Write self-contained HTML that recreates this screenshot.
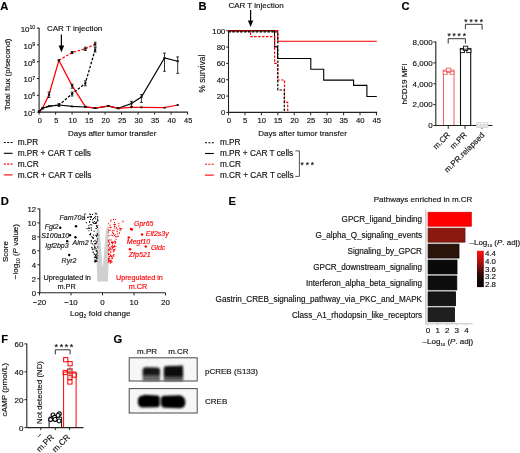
<!DOCTYPE html>
<html><head><meta charset="utf-8"><title>Figure</title>
<style>
html,body{margin:0;padding:0;background:#fff;}
body{width:520px;height:453px;overflow:hidden;}
svg{display:block;}
svg text{font-family:"Liberation Sans", Arial, Helvetica, sans-serif;stroke-width:0.15px;}
</style></head><body>
<svg width="520" height="453" viewBox="0 0 520 453" fill="#111">
<text x="0.2" y="9.8" font-size="11.2" fill="#000" stroke="#000" font-weight="bold">A</text>
<text stroke="#111" x="47" y="31" font-size="8">CAR T injection</text>
<line x1="61.4" y1="34.5" x2="61.4" y2="47" stroke="#000" stroke-width="1.2"/>
<polygon points="58.6,45.5 64.2,45.5 61.4,52.3" fill="#000"/>
<line x1="39.1" y1="27.8" x2="39.1" y2="112.6" stroke="#222" stroke-width="1.1"/>
<line x1="39.1" y1="112.1" x2="187.9" y2="112.1" stroke="#222" stroke-width="1.1"/>
<line x1="36.9" y1="112.1" x2="39.1" y2="112.1" stroke="#222"/>
<text stroke="#111" x="35.2" y="116" font-size="7.9" text-anchor="end">10<tspan font-size="5.1" dy="-2.9">5</tspan></text>
<line x1="36.9" y1="95.3" x2="39.1" y2="95.3" stroke="#222"/>
<text stroke="#111" x="35.2" y="99.2" font-size="7.9" text-anchor="end">10<tspan font-size="5.1" dy="-2.9">6</tspan></text>
<line x1="36.9" y1="78.5" x2="39.1" y2="78.5" stroke="#222"/>
<text stroke="#111" x="35.2" y="82.4" font-size="7.9" text-anchor="end">10<tspan font-size="5.1" dy="-2.9">7</tspan></text>
<line x1="36.9" y1="61.7" x2="39.1" y2="61.7" stroke="#222"/>
<text stroke="#111" x="35.2" y="65.6" font-size="7.9" text-anchor="end">10<tspan font-size="5.1" dy="-2.9">8</tspan></text>
<line x1="36.9" y1="44.9" x2="39.1" y2="44.9" stroke="#222"/>
<text stroke="#111" x="35.2" y="48.8" font-size="7.9" text-anchor="end">10<tspan font-size="5.1" dy="-2.9">9</tspan></text>
<line x1="36.9" y1="28.1" x2="39.1" y2="28.1" stroke="#222"/>
<text stroke="#111" x="35.2" y="32" font-size="7.9" text-anchor="end">10<tspan font-size="5.1" dy="-2.9">10</tspan></text>
<line x1="39.1" y1="112.1" x2="39.1" y2="114.6" stroke="#222"/>
<text stroke="#111" x="39.7" y="122.6" font-size="7.4" text-anchor="middle">0</text>
<line x1="55.6" y1="112.1" x2="55.6" y2="114.6" stroke="#222"/>
<text stroke="#111" x="56.2" y="122.6" font-size="7.4" text-anchor="middle">5</text>
<line x1="72.1" y1="112.1" x2="72.1" y2="114.6" stroke="#222"/>
<text stroke="#111" x="72.7" y="122.6" font-size="7.4" text-anchor="middle">10</text>
<line x1="88.6" y1="112.1" x2="88.6" y2="114.6" stroke="#222"/>
<text stroke="#111" x="89.2" y="122.6" font-size="7.4" text-anchor="middle">15</text>
<line x1="105.1" y1="112.1" x2="105.1" y2="114.6" stroke="#222"/>
<text stroke="#111" x="105.7" y="122.6" font-size="7.4" text-anchor="middle">20</text>
<line x1="121.6" y1="112.1" x2="121.6" y2="114.6" stroke="#222"/>
<text stroke="#111" x="122.2" y="122.6" font-size="7.4" text-anchor="middle">25</text>
<line x1="138.1" y1="112.1" x2="138.1" y2="114.6" stroke="#222"/>
<text stroke="#111" x="138.7" y="122.6" font-size="7.4" text-anchor="middle">30</text>
<line x1="154.6" y1="112.1" x2="154.6" y2="114.6" stroke="#222"/>
<text stroke="#111" x="155.2" y="122.6" font-size="7.4" text-anchor="middle">35</text>
<line x1="171.1" y1="112.1" x2="171.1" y2="114.6" stroke="#222"/>
<text stroke="#111" x="171.7" y="122.6" font-size="7.4" text-anchor="middle">40</text>
<line x1="187.6" y1="112.1" x2="187.6" y2="114.6" stroke="#222"/>
<text stroke="#111" x="188.2" y="122.6" font-size="7.4" text-anchor="middle">45</text>
<text stroke="#111" x="112.2" y="136.1" font-size="8" text-anchor="middle">Days after tumor transfer</text>
<text stroke="#111" x="10.4" y="74.4" font-size="8" text-anchor="middle" transform="rotate(-90 10.4 74.4)">Total flux (p/second)</text>
<polyline points="39.1,111.6 42.4,108.3 49,106.2 58.9,105 72.1,106.4 85.3,107 95.2,108.1 108.4,106.2 118.3,108.3 131.5,103.5 141.4,97.1 164.5,58 177.7,61.2" fill="none" stroke="#000" stroke-width="1.15"/>
<polyline points="39.1,111.6 42.4,108.5 49,94.7 58.9,60.4 72.1,85.6 85.3,106.6 95.2,108.1 108.4,106 118.3,108.3 131.5,107.3 141.4,107.3 164.5,107.7 177.7,105" fill="none" stroke="#ff0000" stroke-width="1.25"/>
<polyline points="39.1,111.6 42.4,108.3 49,106.2 58.9,105 72.1,93.8 85.3,83.4 95.2,49.4" fill="none" stroke="#000" stroke-width="1.25" stroke-dasharray="2.6,1.6"/>
<polyline points="58.9,60.4 72.1,52.5 85.3,48.8 95.2,44.1" fill="none" stroke="#ff0000" stroke-width="1.25" stroke-dasharray="2.6,1.6"/>
<line x1="49" y1="92" x2="49" y2="97.5" stroke="#000" stroke-width="0.8"/>
<line x1="47.6" y1="92" x2="50.4" y2="92" stroke="#000" stroke-width="0.8"/>
<line x1="47.6" y1="97.5" x2="50.4" y2="97.5" stroke="#000" stroke-width="0.8"/>
<line x1="72.1" y1="84.2" x2="72.1" y2="88.2" stroke="#000" stroke-width="0.8"/>
<line x1="70.7" y1="84.2" x2="73.5" y2="84.2" stroke="#000" stroke-width="0.8"/>
<line x1="70.7" y1="88.2" x2="73.5" y2="88.2" stroke="#000" stroke-width="0.8"/>
<line x1="72.1" y1="92" x2="72.1" y2="96" stroke="#000" stroke-width="0.8"/>
<line x1="70.7" y1="92" x2="73.5" y2="92" stroke="#000" stroke-width="0.8"/>
<line x1="70.7" y1="96" x2="73.5" y2="96" stroke="#000" stroke-width="0.8"/>
<line x1="85.3" y1="80.8" x2="85.3" y2="85.8" stroke="#000" stroke-width="0.8"/>
<line x1="83.9" y1="80.8" x2="86.7" y2="80.8" stroke="#000" stroke-width="0.8"/>
<line x1="83.9" y1="85.8" x2="86.7" y2="85.8" stroke="#000" stroke-width="0.8"/>
<line x1="95.2" y1="47.3" x2="95.2" y2="52" stroke="#000" stroke-width="0.8"/>
<line x1="93.8" y1="47.3" x2="96.6" y2="47.3" stroke="#000" stroke-width="0.8"/>
<line x1="93.8" y1="52" x2="96.6" y2="52" stroke="#000" stroke-width="0.8"/>
<line x1="72.1" y1="51.5" x2="72.1" y2="53.6" stroke="#000" stroke-width="0.8"/>
<line x1="70.7" y1="51.5" x2="73.5" y2="51.5" stroke="#000" stroke-width="0.8"/>
<line x1="70.7" y1="53.6" x2="73.5" y2="53.6" stroke="#000" stroke-width="0.8"/>
<line x1="85.3" y1="47.2" x2="85.3" y2="50.5" stroke="#000" stroke-width="0.8"/>
<line x1="83.9" y1="47.2" x2="86.7" y2="47.2" stroke="#000" stroke-width="0.8"/>
<line x1="83.9" y1="50.5" x2="86.7" y2="50.5" stroke="#000" stroke-width="0.8"/>
<line x1="95.2" y1="42.2" x2="95.2" y2="46" stroke="#000" stroke-width="0.8"/>
<line x1="93.8" y1="42.2" x2="96.6" y2="42.2" stroke="#000" stroke-width="0.8"/>
<line x1="93.8" y1="46" x2="96.6" y2="46" stroke="#000" stroke-width="0.8"/>
<line x1="58.9" y1="103.6" x2="58.9" y2="106.4" stroke="#000" stroke-width="0.8"/>
<line x1="57.5" y1="103.6" x2="60.3" y2="103.6" stroke="#000" stroke-width="0.8"/>
<line x1="57.5" y1="106.4" x2="60.3" y2="106.4" stroke="#000" stroke-width="0.8"/>
<line x1="131.5" y1="101.3" x2="131.5" y2="106.4" stroke="#000" stroke-width="0.8"/>
<line x1="130.1" y1="101.3" x2="132.9" y2="101.3" stroke="#000" stroke-width="0.8"/>
<line x1="130.1" y1="106.4" x2="132.9" y2="106.4" stroke="#000" stroke-width="0.8"/>
<line x1="141.4" y1="94.6" x2="141.4" y2="102.4" stroke="#000" stroke-width="0.8"/>
<line x1="140" y1="94.6" x2="142.8" y2="94.6" stroke="#000" stroke-width="0.8"/>
<line x1="140" y1="102.4" x2="142.8" y2="102.4" stroke="#000" stroke-width="0.8"/>
<line x1="164.5" y1="53.1" x2="164.5" y2="71.3" stroke="#000" stroke-width="0.8"/>
<line x1="163.1" y1="53.1" x2="165.9" y2="53.1" stroke="#000" stroke-width="0.8"/>
<line x1="163.1" y1="71.3" x2="165.9" y2="71.3" stroke="#000" stroke-width="0.8"/>
<line x1="177.7" y1="56.9" x2="177.7" y2="73.4" stroke="#000" stroke-width="0.8"/>
<line x1="176.3" y1="56.9" x2="179.1" y2="56.9" stroke="#000" stroke-width="0.8"/>
<line x1="176.3" y1="73.4" x2="179.1" y2="73.4" stroke="#000" stroke-width="0.8"/>
<rect x="38" y="110.7" width="2.2" height="1.8" fill="#111"/>
<rect x="41.3" y="107.4" width="2.2" height="1.8" fill="#111"/>
<rect x="47.9" y="105.3" width="2.2" height="1.8" fill="#111"/>
<rect x="57.8" y="104.1" width="2.2" height="1.8" fill="#111"/>
<rect x="71" y="105.5" width="2.2" height="1.8" fill="#111"/>
<rect x="84.2" y="106.1" width="2.2" height="1.8" fill="#111"/>
<rect x="94.1" y="107.2" width="2.2" height="1.8" fill="#111"/>
<rect x="107.3" y="105.3" width="2.2" height="1.8" fill="#111"/>
<rect x="117.2" y="107.4" width="2.2" height="1.8" fill="#111"/>
<rect x="130.4" y="102.6" width="2.2" height="1.8" fill="#111"/>
<rect x="140.3" y="96.2" width="2.2" height="1.8" fill="#111"/>
<rect x="163.4" y="57.1" width="2.2" height="1.8" fill="#111"/>
<rect x="176.6" y="60.3" width="2.2" height="1.8" fill="#111"/>
<rect x="38" y="110.7" width="2.2" height="1.8" fill="#111"/>
<rect x="41.3" y="107.4" width="2.2" height="1.8" fill="#111"/>
<rect x="47.9" y="105.3" width="2.2" height="1.8" fill="#111"/>
<rect x="57.8" y="104.1" width="2.2" height="1.8" fill="#111"/>
<rect x="71" y="92.9" width="2.2" height="1.8" fill="#111"/>
<rect x="84.2" y="82.5" width="2.2" height="1.8" fill="#111"/>
<rect x="94.1" y="48.5" width="2.2" height="1.8" fill="#111"/>
<rect x="38" y="110.7" width="2.2" height="1.8" fill="#111"/>
<rect x="41.3" y="107.6" width="2.2" height="1.8" fill="#111"/>
<rect x="47.9" y="93.8" width="2.2" height="1.8" fill="#111"/>
<rect x="57.8" y="59.5" width="2.2" height="1.8" fill="#111"/>
<rect x="71" y="84.7" width="2.2" height="1.8" fill="#111"/>
<rect x="84.2" y="105.7" width="2.2" height="1.8" fill="#111"/>
<rect x="94.1" y="107.2" width="2.2" height="1.8" fill="#111"/>
<rect x="107.3" y="105.1" width="2.2" height="1.8" fill="#111"/>
<rect x="117.2" y="107.4" width="2.2" height="1.8" fill="#111"/>
<rect x="130.4" y="106.4" width="2.2" height="1.8" fill="#111"/>
<rect x="140.3" y="106.4" width="2.2" height="1.8" fill="#111"/>
<rect x="163.4" y="106.8" width="2.2" height="1.8" fill="#111"/>
<rect x="176.6" y="104.1" width="2.2" height="1.8" fill="#111"/>
<rect x="57.8" y="59.5" width="2.2" height="1.8" fill="#111"/>
<rect x="71" y="51.6" width="2.2" height="1.8" fill="#111"/>
<rect x="84.2" y="47.9" width="2.2" height="1.8" fill="#111"/>
<rect x="94.1" y="43.2" width="2.2" height="1.8" fill="#111"/>
<line x1="3.8" y1="142.5" x2="12.6" y2="142.5" stroke="#000" stroke-width="1.1" stroke-dasharray="2,1.4"/>
<text stroke="#111" x="17.7" y="145.1" font-size="8.25">m.PR</text>
<line x1="3.8" y1="153.3" x2="12.6" y2="153.3" stroke="#000" stroke-width="1.1"/>
<text stroke="#111" x="17.7" y="155.9" font-size="8.25">m.PR + CAR T cells</text>
<line x1="3.8" y1="164.1" x2="12.6" y2="164.1" stroke="#ff0000" stroke-width="1.1" stroke-dasharray="2,1.4"/>
<text stroke="#111" x="17.7" y="166.7" font-size="8.25">m.CR</text>
<line x1="3.8" y1="174.9" x2="12.6" y2="174.9" stroke="#ff0000" stroke-width="1.1"/>
<text stroke="#111" x="17.7" y="177.5" font-size="8.25">m.CR + CAR T cells</text>
<text x="198.6" y="10" font-size="11.2" fill="#000" stroke="#000" font-weight="bold">B</text>
<text stroke="#111" x="228.4" y="8" font-size="8">CAR T injection</text>
<line x1="250.6" y1="10" x2="250.6" y2="22" stroke="#000" stroke-width="1.2"/>
<polygon points="247.9,20.5 253.3,20.5 250.6,27" fill="#000"/>
<line x1="228.5" y1="30.3" x2="228.5" y2="112.9" stroke="#222" stroke-width="1.1"/>
<line x1="228.5" y1="112.4" x2="377.2" y2="112.4" stroke="#222" stroke-width="1.1"/>
<line x1="226.2" y1="112.4" x2="228.5" y2="112.4" stroke="#222"/>
<text stroke="#111" x="225.2" y="115.2" font-size="7.7" text-anchor="end">0</text>
<line x1="226.2" y1="96.07" x2="228.5" y2="96.07" stroke="#222"/>
<text stroke="#111" x="225.2" y="98.87" font-size="7.7" text-anchor="end">20</text>
<line x1="226.2" y1="79.74" x2="228.5" y2="79.74" stroke="#222"/>
<text stroke="#111" x="225.2" y="82.54" font-size="7.7" text-anchor="end">40</text>
<line x1="226.2" y1="63.4" x2="228.5" y2="63.4" stroke="#222"/>
<text stroke="#111" x="225.2" y="66.2" font-size="7.7" text-anchor="end">60</text>
<line x1="226.2" y1="47.07" x2="228.5" y2="47.07" stroke="#222"/>
<text stroke="#111" x="225.2" y="49.87" font-size="7.7" text-anchor="end">80</text>
<line x1="226.2" y1="30.74" x2="228.5" y2="30.74" stroke="#222"/>
<text stroke="#111" x="225.2" y="33.54" font-size="7.7" text-anchor="end">100</text>
<line x1="228.5" y1="112.4" x2="228.5" y2="115.3" stroke="#222"/>
<text stroke="#111" x="228.8" y="123" font-size="7.7" text-anchor="middle">0</text>
<line x1="244.94" y1="112.4" x2="244.94" y2="115.3" stroke="#222"/>
<text stroke="#111" x="245.24" y="123" font-size="7.7" text-anchor="middle">5</text>
<line x1="261.38" y1="112.4" x2="261.38" y2="115.3" stroke="#222"/>
<text stroke="#111" x="261.68" y="123" font-size="7.7" text-anchor="middle">10</text>
<line x1="277.82" y1="112.4" x2="277.82" y2="115.3" stroke="#222"/>
<text stroke="#111" x="278.12" y="123" font-size="7.7" text-anchor="middle">15</text>
<line x1="294.26" y1="112.4" x2="294.26" y2="115.3" stroke="#222"/>
<text stroke="#111" x="294.56" y="123" font-size="7.7" text-anchor="middle">20</text>
<line x1="310.7" y1="112.4" x2="310.7" y2="115.3" stroke="#222"/>
<text stroke="#111" x="311" y="123" font-size="7.7" text-anchor="middle">25</text>
<line x1="327.14" y1="112.4" x2="327.14" y2="115.3" stroke="#222"/>
<text stroke="#111" x="327.44" y="123" font-size="7.7" text-anchor="middle">30</text>
<line x1="343.58" y1="112.4" x2="343.58" y2="115.3" stroke="#222"/>
<text stroke="#111" x="343.88" y="123" font-size="7.7" text-anchor="middle">35</text>
<line x1="360.02" y1="112.4" x2="360.02" y2="115.3" stroke="#222"/>
<text stroke="#111" x="360.32" y="123" font-size="7.7" text-anchor="middle">40</text>
<line x1="376.46" y1="112.4" x2="376.46" y2="115.3" stroke="#222"/>
<text stroke="#111" x="376.76" y="123" font-size="7.7" text-anchor="middle">45</text>
<text stroke="#111" x="302.6" y="136.1" font-size="8" text-anchor="middle">Days after tumor transfer</text>
<text stroke="#111" x="205" y="73.6" font-size="8.3" text-anchor="middle" transform="rotate(-90 205 73.6)">% survival</text>
<polyline points="228.5,30.5 277.8,30.5 277.8,41.3 376.8,41.3" fill="none" stroke="#ff0000" stroke-width="1.1"/>
<polyline points="228.5,31 274.6,31 274.6,46.9 277.6,46.9 277.6,58.5 310.8,58.5 310.8,69.2 323.7,69.2 323.7,80.1 353.6,80.1 353.6,85.4 366.9,85.4 366.9,96.5 376.8,96.5" fill="none" stroke="#000" stroke-width="1.1"/>
<polyline points="228.5,31.3 250.6,31.3 250.6,36.7 274.6,36.7 274.6,63.4 277.7,63.4 277.7,80 284.5,80 284.5,102.4 287.7,102.4 287.7,112.4" fill="none" stroke="#ff0000" stroke-width="1.2" stroke-dasharray="2.4,1.5"/>
<polyline points="228.5,31.8 277.8,31.8 277.8,90 284.3,90 284.3,112.4" fill="none" stroke="#000" stroke-width="1.2" stroke-dasharray="2.4,1.5"/>
<line x1="205" y1="142.7" x2="213.8" y2="142.7" stroke="#000" stroke-width="1.1" stroke-dasharray="2,1.4"/>
<text stroke="#111" x="219.9" y="145.3" font-size="8.25">m.PR</text>
<line x1="205" y1="153.5" x2="213.8" y2="153.5" stroke="#000" stroke-width="1.1"/>
<text stroke="#111" x="219.9" y="156.1" font-size="8.25">m.PR + CAR T cells</text>
<line x1="205" y1="164.3" x2="213.8" y2="164.3" stroke="#ff0000" stroke-width="1.1" stroke-dasharray="2,1.4"/>
<text stroke="#111" x="219.9" y="166.9" font-size="8.25">m.CR</text>
<line x1="205" y1="175.1" x2="213.8" y2="175.1" stroke="#ff0000" stroke-width="1.1"/>
<text stroke="#111" x="219.9" y="177.7" font-size="8.25">m.CR + CAR T cells</text>
<polyline points="295.3,150.9 299.4,150.9 299.4,176.4 295.3,176.4" fill="none" stroke="#555" stroke-width="1"/>
<text stroke="#111" x="308.2" y="168.42" font-size="8.5" text-anchor="middle" letter-spacing="1.79">***</text>
<text x="401.5" y="10" font-size="11.2" fill="#000" stroke="#000" font-weight="bold">C</text>
<line x1="435.8" y1="41.5" x2="435.8" y2="126" stroke="#222" stroke-width="1.1"/>
<line x1="435.8" y1="125.5" x2="492.5" y2="125.5" stroke="#222" stroke-width="1.1"/>
<line x1="433.4" y1="125.5" x2="435.8" y2="125.5" stroke="#222"/>
<text stroke="#111" x="432.6" y="128.3" font-size="8" text-anchor="end">0</text>
<line x1="433.4" y1="104.62" x2="435.8" y2="104.62" stroke="#222"/>
<text stroke="#111" x="432.6" y="107.42" font-size="8" text-anchor="end">2,000</text>
<line x1="433.4" y1="83.75" x2="435.8" y2="83.75" stroke="#222"/>
<text stroke="#111" x="432.6" y="86.55" font-size="8" text-anchor="end">4,000</text>
<line x1="433.4" y1="62.87" x2="435.8" y2="62.87" stroke="#222"/>
<text stroke="#111" x="432.6" y="65.67" font-size="8" text-anchor="end">6,000</text>
<line x1="433.4" y1="42" x2="435.8" y2="42" stroke="#222"/>
<text stroke="#111" x="432.6" y="44.8" font-size="8" text-anchor="end">8,000</text>
<line x1="448.25" y1="125.5" x2="448.25" y2="128.8" stroke="#222"/>
<line x1="465" y1="125.5" x2="465" y2="128.8" stroke="#222"/>
<line x1="482" y1="125.5" x2="482" y2="128.8" stroke="#222"/>
<polyline points="443.5,125 443.5,71.43 454,71.43 454,125" fill="none" stroke="#f06060" stroke-width="1"/>
<polyline points="460.5,125 460.5,49.52 470.7,49.52 470.7,125" fill="none" stroke="#111" stroke-width="1.1"/>
<rect x="443.1" y="70.1" width="4.2" height="4.2" fill="#fff" stroke="#f06060" stroke-width="0.9"/>
<rect x="449.8" y="70.1" width="4.2" height="4.2" fill="#fff" stroke="#f06060" stroke-width="0.9"/>
<rect x="446.5" y="68.1" width="4.2" height="4.2" fill="#fff" stroke="#f06060" stroke-width="0.9"/>
<line x1="443" y1="71.3" x2="454.5" y2="71.3" stroke="#f06060" stroke-width="0.9"/>
<rect x="460.3" y="48.4" width="4.2" height="4.2" fill="#fff" stroke="#111" stroke-width="0.9"/>
<rect x="466.7" y="48.4" width="4.2" height="4.2" fill="#fff" stroke="#111" stroke-width="0.9"/>
<rect x="463.5" y="46.2" width="4.2" height="4.2" fill="#fff" stroke="#111" stroke-width="0.9"/>
<line x1="460" y1="49.2" x2="471" y2="49.2" stroke="#111" stroke-width="0.9"/>
<rect x="476.6" y="122.6" width="11.2" height="4.9" fill="#f6f6f6" stroke="#d4d4d4" stroke-width="0.8"/>
<rect x="477.4" y="124.2" width="2.8" height="2" fill="none" stroke="#c8c8c8" stroke-width="0.6"/>
<rect x="480.6" y="124.2" width="2.8" height="2" fill="none" stroke="#c8c8c8" stroke-width="0.6"/>
<rect x="484" y="124.2" width="2.8" height="2" fill="none" stroke="#c8c8c8" stroke-width="0.6"/>
<polyline points="448.2,43.5 448.2,38.7 465.4,38.7 465.4,43.5" fill="none" stroke="#333" stroke-width="1"/>
<text stroke="#111" x="457.6" y="39.32" font-size="8.5" text-anchor="middle" letter-spacing="1.79">****</text>
<polyline points="465.4,29.1 465.4,24.3 482.1,24.3 482.1,29.6" fill="none" stroke="#333" stroke-width="1"/>
<text stroke="#111" x="474.55" y="24.72" font-size="8.5" text-anchor="middle" letter-spacing="1.79">****</text>
<text stroke="#111" x="450.7" y="135.4" font-size="8" text-anchor="end" transform="rotate(-45 450.7 135.4)">m.CR</text>
<text stroke="#111" x="467.3" y="135.4" font-size="8" text-anchor="end" transform="rotate(-45 467.3 135.4)">m.PR</text>
<text stroke="#111" x="485" y="135.6" font-size="8" text-anchor="end" transform="rotate(-45 485 135.6)">m.PR.relapsed</text>
<text stroke="#111" x="406.8" y="84" font-size="8" text-anchor="middle" transform="rotate(-90 406.8 84)">hCD19 MFI</text>
<text x="0.8" y="205.3" font-size="11.2" fill="#000" stroke="#000" font-weight="bold">D</text>
<line x1="39.8" y1="208.6" x2="39.8" y2="293.2" stroke="#222" stroke-width="1.1"/>
<line x1="39.3" y1="292.7" x2="165.3" y2="292.7" stroke="#222" stroke-width="1.1"/>
<line x1="37.3" y1="292.7" x2="39.8" y2="292.7" stroke="#222"/>
<text stroke="#111" x="36.1" y="295.5" font-size="7.8" text-anchor="end">0</text>
<line x1="37.3" y1="278.74" x2="39.8" y2="278.74" stroke="#222"/>
<text stroke="#111" x="36.1" y="281.54" font-size="7.8" text-anchor="end">2</text>
<line x1="37.3" y1="264.78" x2="39.8" y2="264.78" stroke="#222"/>
<text stroke="#111" x="36.1" y="267.58" font-size="7.8" text-anchor="end">4</text>
<line x1="37.3" y1="250.82" x2="39.8" y2="250.82" stroke="#222"/>
<text stroke="#111" x="36.1" y="253.62" font-size="7.8" text-anchor="end">6</text>
<line x1="37.3" y1="236.86" x2="39.8" y2="236.86" stroke="#222"/>
<text stroke="#111" x="36.1" y="239.66" font-size="7.8" text-anchor="end">8</text>
<line x1="37.3" y1="222.9" x2="39.8" y2="222.9" stroke="#222"/>
<text stroke="#111" x="36.1" y="225.7" font-size="7.8" text-anchor="end">10</text>
<line x1="37.3" y1="208.94" x2="39.8" y2="208.94" stroke="#222"/>
<text stroke="#111" x="36.1" y="211.74" font-size="7.8" text-anchor="end">12</text>
<line x1="39.5" y1="292.7" x2="39.5" y2="295.4" stroke="#222"/>
<text stroke="#111" x="39.5" y="304.8" font-size="7.9" text-anchor="middle">−20</text>
<line x1="71" y1="292.7" x2="71" y2="295.4" stroke="#222"/>
<text stroke="#111" x="71" y="304.8" font-size="7.9" text-anchor="middle">−10</text>
<line x1="102.5" y1="292.7" x2="102.5" y2="295.4" stroke="#222"/>
<text stroke="#111" x="102.5" y="304.8" font-size="7.9" text-anchor="middle">0</text>
<line x1="134" y1="292.7" x2="134" y2="295.4" stroke="#222"/>
<text stroke="#111" x="134" y="304.8" font-size="7.9" text-anchor="middle">10</text>
<line x1="165.5" y1="292.7" x2="165.5" y2="295.4" stroke="#222"/>
<text stroke="#111" x="165.5" y="304.8" font-size="7.9" text-anchor="middle">20</text>
<text stroke="#111" x="100.3" y="315.6" font-size="8.1" text-anchor="middle">Log<tspan font-size="5" dy="2">2</tspan><tspan dy="-2"> fold change</tspan></text>
<text stroke="#111" x="8.4" y="251.6" font-size="8" text-anchor="middle" transform="rotate(-90 8.4 251.6)">Score</text>
<text stroke="#111" x="18.3" y="251.6" font-size="8" text-anchor="middle" transform="rotate(-90 18.3 251.6)">−log<tspan font-size="5" dy="2">10</tspan><tspan dy="-2"> (</tspan><tspan font-style="italic">P</tspan> value)</text>
<path d="M96.4,231 L98,226 L99.7,231 L102.4,266 L103,266 L105.8,231 L107.3,226 L108.9,231 L108.7,262 L107.9,281.6 L97.3,281.6 L96.6,262 Z" fill="#d0d0d0" filter="url(#bl2)"/>
<circle cx="93.4" cy="235.17" r="0.6" fill="#000"/>
<circle cx="96.41" cy="258.29" r="0.6" fill="#000"/>
<circle cx="93.45" cy="237.88" r="0.6" fill="#000"/>
<circle cx="92.54" cy="222.05" r="0.6" fill="#000"/>
<circle cx="92.47" cy="243.86" r="0.6" fill="#000"/>
<circle cx="94.88" cy="217.61" r="0.6" fill="#000"/>
<circle cx="87.56" cy="217.44" r="0.6" fill="#000"/>
<circle cx="97.78" cy="246.98" r="0.6" fill="#000"/>
<circle cx="94.84" cy="261.13" r="0.6" fill="#000"/>
<circle cx="94.09" cy="245.04" r="0.6" fill="#000"/>
<circle cx="97.83" cy="220.72" r="0.6" fill="#000"/>
<circle cx="97.65" cy="238.89" r="0.6" fill="#000"/>
<circle cx="95.81" cy="222.32" r="0.6" fill="#000"/>
<circle cx="92.48" cy="214.47" r="0.6" fill="#000"/>
<circle cx="90.29" cy="234.59" r="0.6" fill="#000"/>
<circle cx="93.01" cy="238.44" r="0.6" fill="#000"/>
<circle cx="92.67" cy="237.49" r="0.6" fill="#000"/>
<circle cx="96.03" cy="235.41" r="0.6" fill="#000"/>
<circle cx="94.89" cy="261.89" r="0.6" fill="#000"/>
<circle cx="94.76" cy="254.17" r="0.6" fill="#000"/>
<circle cx="96.17" cy="228.45" r="0.6" fill="#000"/>
<circle cx="97.5" cy="227.16" r="0.6" fill="#000"/>
<circle cx="96.09" cy="250.55" r="0.6" fill="#000"/>
<circle cx="96.45" cy="254.48" r="0.6" fill="#000"/>
<circle cx="95.07" cy="259.94" r="0.6" fill="#000"/>
<circle cx="95.84" cy="213.03" r="0.6" fill="#000"/>
<circle cx="96.33" cy="257.6" r="0.6" fill="#000"/>
<circle cx="96.88" cy="261.04" r="0.6" fill="#000"/>
<circle cx="90.24" cy="216.58" r="0.6" fill="#000"/>
<circle cx="96.82" cy="251.15" r="0.6" fill="#000"/>
<circle cx="94.49" cy="217.27" r="0.6" fill="#000"/>
<circle cx="95.49" cy="260.24" r="0.6" fill="#000"/>
<circle cx="95.62" cy="218.78" r="0.6" fill="#000"/>
<circle cx="97.5" cy="217.95" r="0.6" fill="#000"/>
<circle cx="97.28" cy="252.05" r="0.6" fill="#000"/>
<circle cx="94.95" cy="240.41" r="0.6" fill="#000"/>
<circle cx="89.57" cy="222.34" r="0.6" fill="#000"/>
<circle cx="90.41" cy="219.42" r="0.6" fill="#000"/>
<circle cx="93.44" cy="218.71" r="0.6" fill="#000"/>
<circle cx="95.56" cy="223.43" r="0.6" fill="#000"/>
<circle cx="95.36" cy="260.58" r="0.6" fill="#000"/>
<circle cx="88.46" cy="227.9" r="0.6" fill="#000"/>
<circle cx="94.13" cy="223.32" r="0.6" fill="#000"/>
<circle cx="95.21" cy="254.86" r="0.6" fill="#000"/>
<circle cx="84.73" cy="217.92" r="0.6" fill="#000"/>
<circle cx="95.68" cy="223.45" r="0.6" fill="#000"/>
<circle cx="96.5" cy="250.86" r="0.6" fill="#000"/>
<circle cx="97.48" cy="227.52" r="0.6" fill="#000"/>
<circle cx="91.05" cy="217.42" r="0.6" fill="#000"/>
<circle cx="91.7" cy="224.91" r="0.6" fill="#000"/>
<circle cx="94.1" cy="231.21" r="0.6" fill="#000"/>
<circle cx="96.5" cy="260" r="0.6" fill="#000"/>
<circle cx="91.3" cy="241.15" r="0.6" fill="#000"/>
<circle cx="96.7" cy="221.96" r="0.6" fill="#000"/>
<circle cx="94.75" cy="257.51" r="0.6" fill="#000"/>
<circle cx="96.44" cy="225.23" r="0.6" fill="#000"/>
<circle cx="92.35" cy="249.23" r="0.6" fill="#000"/>
<circle cx="86.42" cy="222.63" r="0.6" fill="#000"/>
<circle cx="95.58" cy="256.23" r="0.6" fill="#000"/>
<circle cx="97.33" cy="233.65" r="0.6" fill="#000"/>
<circle cx="84.5" cy="214.9" r="0.6" fill="#000"/>
<circle cx="90.31" cy="224.68" r="0.6" fill="#000"/>
<circle cx="88.84" cy="225.59" r="0.6" fill="#000"/>
<circle cx="96.25" cy="242.23" r="0.6" fill="#000"/>
<circle cx="89.62" cy="221.6" r="0.6" fill="#000"/>
<circle cx="95.74" cy="216.37" r="0.6" fill="#000"/>
<circle cx="91.29" cy="240.41" r="0.6" fill="#000"/>
<circle cx="96.38" cy="243.1" r="0.6" fill="#000"/>
<circle cx="97.36" cy="257.95" r="0.6" fill="#000"/>
<circle cx="95.13" cy="213.81" r="0.6" fill="#000"/>
<circle cx="97.62" cy="234.84" r="0.6" fill="#000"/>
<circle cx="94.32" cy="221.64" r="0.6" fill="#000"/>
<circle cx="97.27" cy="241.04" r="0.6" fill="#000"/>
<circle cx="88.95" cy="230.75" r="0.6" fill="#000"/>
<circle cx="95.99" cy="261.04" r="0.6" fill="#000"/>
<circle cx="94.55" cy="246.87" r="0.6" fill="#000"/>
<circle cx="97.7" cy="219.88" r="0.6" fill="#000"/>
<circle cx="85.19" cy="213.88" r="0.6" fill="#000"/>
<circle cx="91.76" cy="247.35" r="0.6" fill="#000"/>
<circle cx="89.8" cy="214.04" r="0.6" fill="#000"/>
<circle cx="91.85" cy="236.63" r="0.6" fill="#000"/>
<circle cx="87.08" cy="228.63" r="0.6" fill="#000"/>
<circle cx="91.5" cy="216.69" r="0.6" fill="#000"/>
<circle cx="92.62" cy="249.11" r="0.6" fill="#000"/>
<circle cx="94.02" cy="249.12" r="0.6" fill="#000"/>
<circle cx="93.09" cy="251.87" r="0.6" fill="#000"/>
<circle cx="91.38" cy="230.24" r="0.6" fill="#000"/>
<circle cx="94.42" cy="257.14" r="0.6" fill="#000"/>
<circle cx="90.67" cy="233.44" r="0.6" fill="#000"/>
<circle cx="95.62" cy="255.31" r="0.6" fill="#000"/>
<circle cx="95.7" cy="243.62" r="0.6" fill="#000"/>
<circle cx="93.71" cy="241.55" r="0.6" fill="#000"/>
<circle cx="90.14" cy="216.93" r="0.6" fill="#000"/>
<circle cx="95.28" cy="261.67" r="0.6" fill="#000"/>
<circle cx="96.02" cy="248.68" r="0.6" fill="#000"/>
<circle cx="94.83" cy="249.02" r="0.6" fill="#000"/>
<circle cx="90.33" cy="234.59" r="0.6" fill="#000"/>
<circle cx="88.45" cy="217.11" r="0.6" fill="#000"/>
<circle cx="90.4" cy="214.46" r="0.6" fill="#000"/>
<circle cx="96.47" cy="236.57" r="0.6" fill="#000"/>
<circle cx="95.2" cy="247.22" r="0.6" fill="#000"/>
<circle cx="91.2" cy="243.11" r="0.6" fill="#000"/>
<circle cx="97.86" cy="225.54" r="0.6" fill="#000"/>
<circle cx="91.11" cy="227.75" r="0.6" fill="#000"/>
<circle cx="96.58" cy="222.93" r="0.6" fill="#000"/>
<circle cx="95.47" cy="257.38" r="0.6" fill="#000"/>
<circle cx="89.74" cy="234.65" r="0.6" fill="#000"/>
<circle cx="91.44" cy="229.02" r="0.6" fill="#000"/>
<circle cx="93.63" cy="222.73" r="0.6" fill="#000"/>
<circle cx="93.22" cy="252.49" r="0.6" fill="#000"/>
<circle cx="96.58" cy="256.13" r="0.6" fill="#000"/>
<circle cx="96.05" cy="241.57" r="0.6" fill="#000"/>
<circle cx="92.51" cy="219.67" r="0.6" fill="#000"/>
<circle cx="93.93" cy="254.02" r="0.6" fill="#000"/>
<circle cx="91.97" cy="247.85" r="0.6" fill="#000"/>
<circle cx="96.67" cy="226.56" r="0.6" fill="#000"/>
<circle cx="96.04" cy="235.08" r="0.6" fill="#000"/>
<circle cx="93.9" cy="223.49" r="0.6" fill="#000"/>
<circle cx="94.88" cy="243.66" r="0.6" fill="#000"/>
<circle cx="89.17" cy="228.45" r="0.6" fill="#000"/>
<circle cx="96.71" cy="261.12" r="0.6" fill="#000"/>
<circle cx="97.72" cy="216.66" r="0.6" fill="#000"/>
<circle cx="97.82" cy="255.77" r="0.6" fill="#000"/>
<circle cx="94.75" cy="247.72" r="0.6" fill="#000"/>
<circle cx="89.73" cy="228.14" r="0.6" fill="#000"/>
<circle cx="96.72" cy="213.94" r="0.6" fill="#000"/>
<circle cx="97.81" cy="235.29" r="0.6" fill="#000"/>
<circle cx="97.08" cy="253.65" r="0.6" fill="#000"/>
<circle cx="97.62" cy="219.9" r="0.6" fill="#000"/>
<circle cx="95.25" cy="243.83" r="0.6" fill="#000"/>
<circle cx="113.42" cy="246.72" r="0.6" fill="#f00"/>
<circle cx="113.93" cy="254.52" r="0.6" fill="#f00"/>
<circle cx="109.49" cy="249.12" r="0.6" fill="#f00"/>
<circle cx="109.75" cy="239.91" r="0.6" fill="#f00"/>
<circle cx="115.37" cy="219.47" r="0.6" fill="#f00"/>
<circle cx="109.29" cy="250.42" r="0.6" fill="#f00"/>
<circle cx="112.23" cy="230.98" r="0.6" fill="#f00"/>
<circle cx="111.82" cy="249.68" r="0.6" fill="#f00"/>
<circle cx="114.46" cy="246.04" r="0.6" fill="#f00"/>
<circle cx="117.01" cy="236.31" r="0.6" fill="#f00"/>
<circle cx="108.52" cy="258.87" r="0.6" fill="#f00"/>
<circle cx="111.26" cy="260.03" r="0.6" fill="#f00"/>
<circle cx="114.41" cy="224.72" r="0.6" fill="#f00"/>
<circle cx="115.74" cy="246.52" r="0.6" fill="#f00"/>
<circle cx="114.44" cy="235.58" r="0.6" fill="#f00"/>
<circle cx="112.15" cy="257.69" r="0.6" fill="#f00"/>
<circle cx="110.01" cy="260.55" r="0.6" fill="#f00"/>
<circle cx="109.6" cy="247.66" r="0.6" fill="#f00"/>
<circle cx="113.91" cy="250.77" r="0.6" fill="#f00"/>
<circle cx="113.86" cy="247.23" r="0.6" fill="#f00"/>
<circle cx="120.42" cy="228.39" r="0.6" fill="#f00"/>
<circle cx="111.86" cy="262.14" r="0.6" fill="#f00"/>
<circle cx="115.55" cy="242.63" r="0.6" fill="#f00"/>
<circle cx="119.32" cy="233.1" r="0.6" fill="#f00"/>
<circle cx="109.89" cy="256.65" r="0.6" fill="#f00"/>
<circle cx="114.47" cy="222.64" r="0.6" fill="#f00"/>
<circle cx="115.19" cy="243.21" r="0.6" fill="#f00"/>
<circle cx="108.4" cy="240.45" r="0.6" fill="#f00"/>
<circle cx="108.49" cy="254.6" r="0.6" fill="#f00"/>
<circle cx="109.09" cy="254.19" r="0.6" fill="#f00"/>
<circle cx="117.54" cy="233.74" r="0.6" fill="#f00"/>
<circle cx="110" cy="225.18" r="0.6" fill="#f00"/>
<circle cx="115.05" cy="241.73" r="0.6" fill="#f00"/>
<circle cx="111.91" cy="255.96" r="0.6" fill="#f00"/>
<circle cx="110.13" cy="260.61" r="0.6" fill="#f00"/>
<circle cx="108.48" cy="260.76" r="0.6" fill="#f00"/>
<circle cx="114.93" cy="228.74" r="0.6" fill="#f00"/>
<circle cx="117.19" cy="231.77" r="0.6" fill="#f00"/>
<circle cx="112.21" cy="247.11" r="0.6" fill="#f00"/>
<circle cx="111.12" cy="256.12" r="0.6" fill="#f00"/>
<circle cx="112.51" cy="232.71" r="0.6" fill="#f00"/>
<circle cx="113.11" cy="256.19" r="0.6" fill="#f00"/>
<circle cx="119.75" cy="228.16" r="0.6" fill="#f00"/>
<circle cx="110.12" cy="261.61" r="0.6" fill="#f00"/>
<circle cx="109.75" cy="244.21" r="0.6" fill="#f00"/>
<circle cx="112.68" cy="242.58" r="0.6" fill="#f00"/>
<circle cx="108.37" cy="245.63" r="0.6" fill="#f00"/>
<circle cx="110.08" cy="261.65" r="0.6" fill="#f00"/>
<circle cx="117.05" cy="236.63" r="0.6" fill="#f00"/>
<circle cx="112.4" cy="243.77" r="0.6" fill="#f00"/>
<circle cx="108.58" cy="249.4" r="0.6" fill="#f00"/>
<circle cx="111.8" cy="242.7" r="0.6" fill="#f00"/>
<circle cx="111.92" cy="261.1" r="0.6" fill="#f00"/>
<circle cx="113.91" cy="230.85" r="0.6" fill="#f00"/>
<circle cx="114.12" cy="224.59" r="0.6" fill="#f00"/>
<circle cx="113.45" cy="254.89" r="0.6" fill="#f00"/>
<circle cx="111.11" cy="239.97" r="0.6" fill="#f00"/>
<circle cx="116.45" cy="227.42" r="0.6" fill="#f00"/>
<circle cx="108.67" cy="259.71" r="0.6" fill="#f00"/>
<circle cx="108.3" cy="253.29" r="0.6" fill="#f00"/>
<circle cx="110.94" cy="227.54" r="0.6" fill="#f00"/>
<circle cx="110.38" cy="249.23" r="0.6" fill="#f00"/>
<circle cx="115.22" cy="234.64" r="0.6" fill="#f00"/>
<circle cx="118.92" cy="223.61" r="0.6" fill="#f00"/>
<circle cx="115.31" cy="224.4" r="0.6" fill="#f00"/>
<circle cx="110.43" cy="230.02" r="0.6" fill="#f00"/>
<circle cx="112.06" cy="242.34" r="0.6" fill="#f00"/>
<circle cx="112.6" cy="235.53" r="0.6" fill="#f00"/>
<circle cx="109.48" cy="242.29" r="0.6" fill="#f00"/>
<circle cx="116.55" cy="227.99" r="0.6" fill="#f00"/>
<circle cx="112.28" cy="247.09" r="0.6" fill="#f00"/>
<circle cx="111.36" cy="256.46" r="0.6" fill="#f00"/>
<circle cx="109.28" cy="256.7" r="0.6" fill="#f00"/>
<circle cx="113.65" cy="251.59" r="0.6" fill="#f00"/>
<circle cx="109.54" cy="258.72" r="0.6" fill="#f00"/>
<circle cx="119.56" cy="232.86" r="0.6" fill="#f00"/>
<circle cx="121.84" cy="228.6" r="0.6" fill="#f00"/>
<circle cx="108.74" cy="258.05" r="0.6" fill="#f00"/>
<circle cx="117.62" cy="229.53" r="0.6" fill="#f00"/>
<circle cx="109.21" cy="230.42" r="0.6" fill="#f00"/>
<circle cx="110.4" cy="255.62" r="0.6" fill="#f00"/>
<circle cx="108.84" cy="253.76" r="0.6" fill="#f00"/>
<circle cx="115.63" cy="236.72" r="0.6" fill="#f00"/>
<circle cx="110.98" cy="219.78" r="0.6" fill="#f00"/>
<circle cx="115.09" cy="249.02" r="0.6" fill="#f00"/>
<circle cx="108.56" cy="261.61" r="0.6" fill="#f00"/>
<circle cx="115.52" cy="241.25" r="0.6" fill="#f00"/>
<circle cx="114.78" cy="241.12" r="0.6" fill="#f00"/>
<circle cx="108.96" cy="227.32" r="0.6" fill="#f00"/>
<circle cx="108.61" cy="223.67" r="0.6" fill="#f00"/>
<circle cx="112.69" cy="243.27" r="0.6" fill="#f00"/>
<circle cx="109.3" cy="244.02" r="0.6" fill="#f00"/>
<circle cx="110.65" cy="227.12" r="0.6" fill="#f00"/>
<circle cx="113.72" cy="255.97" r="0.6" fill="#f00"/>
<circle cx="108.54" cy="259.78" r="0.6" fill="#f00"/>
<circle cx="123.06" cy="221.73" r="0.6" fill="#f00"/>
<circle cx="116.01" cy="239.33" r="0.6" fill="#f00"/>
<circle cx="113.5" cy="233.38" r="0.6" fill="#f00"/>
<circle cx="112.07" cy="241.67" r="0.6" fill="#f00"/>
<circle cx="108.27" cy="245.44" r="0.6" fill="#f00"/>
<circle cx="114.33" cy="249.85" r="0.6" fill="#f00"/>
<circle cx="114.13" cy="226.98" r="0.6" fill="#f00"/>
<circle cx="110.75" cy="251.53" r="0.6" fill="#f00"/>
<circle cx="110.13" cy="227.59" r="0.6" fill="#f00"/>
<circle cx="108.3" cy="241.55" r="0.6" fill="#f00"/>
<circle cx="112.03" cy="258.3" r="0.6" fill="#f00"/>
<circle cx="114.42" cy="250.01" r="0.6" fill="#f00"/>
<circle cx="111.27" cy="246.69" r="0.6" fill="#f00"/>
<circle cx="112.3" cy="245.38" r="0.6" fill="#f00"/>
<circle cx="111.13" cy="262.24" r="0.6" fill="#f00"/>
<circle cx="120.07" cy="230.36" r="0.6" fill="#f00"/>
<circle cx="113.38" cy="251.76" r="0.6" fill="#f00"/>
<circle cx="110.39" cy="254.84" r="0.6" fill="#f00"/>
<circle cx="112.41" cy="258.45" r="0.6" fill="#f00"/>
<circle cx="113.78" cy="249.57" r="0.6" fill="#f00"/>
<circle cx="110.63" cy="252.67" r="0.6" fill="#f00"/>
<circle cx="108.58" cy="250.8" r="0.6" fill="#f00"/>
<circle cx="113.44" cy="234.04" r="0.6" fill="#f00"/>
<circle cx="113.45" cy="219.47" r="0.6" fill="#f00"/>
<circle cx="113.08" cy="247.1" r="0.6" fill="#f00"/>
<circle cx="120.86" cy="229.21" r="0.6" fill="#f00"/>
<circle cx="110.58" cy="248.31" r="0.6" fill="#f00"/>
<circle cx="112.47" cy="248.03" r="0.6" fill="#f00"/>
<circle cx="111.59" cy="242.46" r="0.6" fill="#f00"/>
<circle cx="110.35" cy="263" r="0.6" fill="#f00"/>
<circle cx="113.67" cy="249.86" r="0.6" fill="#f00"/>
<circle cx="108.26" cy="262.12" r="0.6" fill="#f00"/>
<circle cx="114.29" cy="246.08" r="0.6" fill="#f00"/>
<circle cx="113.03" cy="230.29" r="0.6" fill="#f00"/>
<circle cx="110.83" cy="221.22" r="0.6" fill="#f00"/>
<circle cx="109.11" cy="235.53" r="0.6" fill="#f00"/>
<circle cx="120.07" cy="230.04" r="0.6" fill="#f00"/>
<circle cx="112.64" cy="243.2" r="0.6" fill="#f00"/>
<circle cx="110.31" cy="261.55" r="0.6" fill="#f00"/>
<circle cx="110.37" cy="262.78" r="0.6" fill="#f00"/>
<circle cx="108.55" cy="254.62" r="0.6" fill="#f00"/>
<circle cx="114.65" cy="245.29" r="0.6" fill="#f00"/>
<circle cx="122.9" cy="220.98" r="0.6" fill="#f00"/>
<circle cx="114.51" cy="226.04" r="0.6" fill="#f00"/>
<circle cx="114.81" cy="226.44" r="0.6" fill="#f00"/>
<circle cx="108.58" cy="245.89" r="0.6" fill="#f00"/>
<circle cx="109.82" cy="260.59" r="0.6" fill="#f00"/>
<circle cx="113.68" cy="242.18" r="0.6" fill="#f00"/>
<circle cx="111.16" cy="235.09" r="0.6" fill="#f00"/>
<circle cx="112.42" cy="247.82" r="0.6" fill="#f00"/>
<circle cx="117.08" cy="231.48" r="0.6" fill="#f00"/>
<circle cx="108.32" cy="232.03" r="0.6" fill="#f00"/>
<circle cx="108.62" cy="229.78" r="0.6" fill="#f00"/>
<circle cx="118.81" cy="225.89" r="0.6" fill="#f00"/>
<circle cx="118.35" cy="236.16" r="0.6" fill="#f00"/>
<circle cx="60.2" cy="227.8" r="1.2" fill="#000"/>
<circle cx="76" cy="226.2" r="1.2" fill="#000"/>
<circle cx="70" cy="235.3" r="1.2" fill="#000"/>
<circle cx="67.2" cy="241.3" r="1.2" fill="#000"/>
<circle cx="75.5" cy="237.3" r="1.2" fill="#000"/>
<circle cx="69.2" cy="255" r="1.2" fill="#000"/>
<circle cx="131" cy="229.1" r="1.25" fill="#f00"/>
<circle cx="131.8" cy="229.4" r="1.25" fill="#f00"/>
<circle cx="142" cy="234.6" r="1.25" fill="#f00"/>
<circle cx="128.7" cy="237.4" r="1.25" fill="#f00"/>
<circle cx="145.8" cy="246.4" r="1.25" fill="#f00"/>
<circle cx="130" cy="249.2" r="1.25" fill="#f00"/>
<text stroke="#111" x="44.7" y="229" font-size="7" font-style="italic">Fgl2</text>
<text stroke="#111" x="59.6" y="219.6" font-size="7" font-style="italic">Fam70a</text>
<text stroke="#111" x="41.2" y="237.8" font-size="7" font-style="italic">S100a10</text>
<text stroke="#111" x="45.3" y="247.5" font-size="7" font-style="italic">Igf2bp3</text>
<text stroke="#111" x="72.6" y="245.2" font-size="7" font-style="italic">Aim2</text>
<text stroke="#111" x="61.6" y="262.6" font-size="7" font-style="italic">Ryr2</text>
<text x="134" y="225.8" font-size="7" fill="#f00" stroke="#f00" font-style="italic">Gpr65</text>
<text x="145.8" y="236" font-size="7" fill="#f00" stroke="#f00" font-style="italic">Eif2s3y</text>
<text x="126.8" y="243.8" font-size="7" fill="#f00" stroke="#f00" font-style="italic">Megf10</text>
<text x="150.9" y="249.5" font-size="7" fill="#f00" stroke="#f00" font-style="italic">Gldc</text>
<text x="128.8" y="257.3" font-size="7" fill="#f00" stroke="#f00" font-style="italic">Zfp521</text>
<text stroke="#111" x="67.2" y="279.7" font-size="7.3" text-anchor="middle">Upregulated in</text>
<text stroke="#111" x="66.6" y="288.8" font-size="7.3" text-anchor="middle">m.PR</text>
<text x="139.4" y="279.7" font-size="7.2" text-anchor="middle" fill="#f00" stroke="#f00">Upregulated in</text>
<text x="138" y="288.8" font-size="7.2" text-anchor="middle" fill="#f00" stroke="#f00">m.CR</text>
<text x="228.5" y="205" font-size="11.2" fill="#000" stroke="#000" font-weight="bold">E</text>
<text stroke="#111" x="373.7" y="202" font-size="8">Pathways enriched in m.CR</text>
<rect x="428.1" y="212.3" width="43.2" height="13.9" fill="#ff0000" stroke="#e00000" stroke-width="0.8"/>
<text stroke="#111" x="422" y="222.2" font-size="8.15" text-anchor="end">GPCR_ligand_binding</text>
<rect x="428.1" y="228.22" width="36.9" height="13.9" fill="#8a1a10" stroke="#6a0c06" stroke-width="0.8"/>
<text stroke="#111" x="422" y="238.12" font-size="8.15" text-anchor="end">G_alpha_Q_signaling_events</text>
<rect x="428.1" y="244.14" width="30.9" height="13.9" fill="#2a130b" stroke="#150805" stroke-width="0.8"/>
<text stroke="#111" x="422" y="254.04" font-size="8.15" text-anchor="end">Signaling_by_GPCR</text>
<rect x="428.1" y="260.06" width="28.9" height="13.9" fill="#0a0a0a" stroke="#000" stroke-width="0.8"/>
<text stroke="#111" x="422" y="269.96" font-size="8.15" text-anchor="end">GPCR_downstream_signaling</text>
<rect x="428.1" y="275.98" width="28.7" height="13.9" fill="#0c0c0c" stroke="#000" stroke-width="0.8"/>
<text stroke="#111" x="422" y="285.88" font-size="8.15" text-anchor="end">Interferon_alpha_beta_signaling</text>
<rect x="428.1" y="291.9" width="27.4" height="13.9" fill="#161616" stroke="#000" stroke-width="0.8"/>
<text stroke="#111" x="422" y="301.8" font-size="8.15" text-anchor="end">Gastrin_CREB_signaling_pathway_via_PKC_and_MAPK</text>
<rect x="428.1" y="307.82" width="26.4" height="13.9" fill="#1f1f1f" stroke="#050505" stroke-width="0.8"/>
<text stroke="#111" x="422" y="317.72" font-size="8.15" text-anchor="end">Class_A1_rhodopsin_like_receptors</text>
<line x1="425.9" y1="209.8" x2="425.9" y2="324.3" stroke="#b0b0b0"/>
<line x1="425.9" y1="323.8" x2="472.6" y2="323.8" stroke="#c0c0c0"/>
<line x1="427.8" y1="323.8" x2="427.8" y2="325.5" stroke="#c0c0c0" stroke-width="0.8"/>
<text stroke="#111" x="428.1" y="333.2" font-size="8" text-anchor="middle">0</text>
<line x1="437.38" y1="323.8" x2="437.38" y2="325.5" stroke="#c0c0c0" stroke-width="0.8"/>
<text stroke="#111" x="437.68" y="333.2" font-size="8" text-anchor="middle">1</text>
<line x1="446.96" y1="323.8" x2="446.96" y2="325.5" stroke="#c0c0c0" stroke-width="0.8"/>
<text stroke="#111" x="447.26" y="333.2" font-size="8" text-anchor="middle">2</text>
<line x1="456.54" y1="323.8" x2="456.54" y2="325.5" stroke="#c0c0c0" stroke-width="0.8"/>
<text stroke="#111" x="456.84" y="333.2" font-size="8" text-anchor="middle">3</text>
<line x1="466.12" y1="323.8" x2="466.12" y2="325.5" stroke="#c0c0c0" stroke-width="0.8"/>
<text stroke="#111" x="466.42" y="333.2" font-size="8" text-anchor="middle">4</text>
<text stroke="#111" x="447.9" y="344" font-size="8" text-anchor="middle">–Log<tspan font-size="4.3" dy="1.8">10</tspan><tspan dy="-1.8"> (</tspan><tspan font-style="italic">P</tspan>. adj)</text>
<defs><linearGradient id="cb" x1="0" y1="0" x2="0" y2="1"><stop offset="0" stop-color="#ff1010"/><stop offset="0.3" stop-color="#b01010"/><stop offset="0.65" stop-color="#300808"/><stop offset="1" stop-color="#000"/></linearGradient></defs>
<rect x="477" y="250.8" width="6.8" height="36.3" fill="url(#cb)"/>
<text stroke="#111" x="485" y="256.1" font-size="7.9">4.4</text>
<text stroke="#111" x="485" y="263.6" font-size="7.9">4.0</text>
<text stroke="#111" x="485" y="272.3" font-size="7.9">3.6</text>
<text stroke="#111" x="485" y="279.1" font-size="7.9">3.2</text>
<text stroke="#111" x="485" y="286.6" font-size="7.9">2.8</text>
<text stroke="#111" x="469.5" y="245.2" font-size="8">–Log<tspan font-size="4.3" dy="1.8">10</tspan><tspan dy="-1.8"> (</tspan><tspan font-style="italic">P</tspan>. adj)</text>
<text x="1.3" y="342.5" font-size="11.2" fill="#000" stroke="#000" font-weight="bold">F</text>
<line x1="26.8" y1="343.5" x2="26.8" y2="428" stroke="#222" stroke-width="1.1"/>
<line x1="26.8" y1="427.6" x2="83.5" y2="427.6" stroke="#222" stroke-width="1.1"/>
<line x1="24.4" y1="427.6" x2="26.8" y2="427.6" stroke="#222"/>
<text stroke="#111" x="23.4" y="430.5" font-size="8" text-anchor="end">0</text>
<line x1="24.4" y1="399.7" x2="26.8" y2="399.7" stroke="#222"/>
<text stroke="#111" x="23.4" y="402.6" font-size="8" text-anchor="end">20</text>
<line x1="24.4" y1="371.8" x2="26.8" y2="371.8" stroke="#222"/>
<text stroke="#111" x="23.4" y="374.7" font-size="8" text-anchor="end">40</text>
<line x1="24.4" y1="343.9" x2="26.8" y2="343.9" stroke="#222"/>
<text stroke="#111" x="23.4" y="346.8" font-size="8" text-anchor="end">60</text>
<line x1="40.8" y1="427.6" x2="40.8" y2="430.2" stroke="#222"/>
<line x1="55.3" y1="427.6" x2="55.3" y2="430.2" stroke="#222"/>
<line x1="69.6" y1="427.6" x2="69.6" y2="430.2" stroke="#222"/>
<polyline points="49.1,427.2 49.1,417.14 61.6,417.14 61.6,427.2" fill="none" stroke="#111" stroke-width="1"/>
<polyline points="63.6,427.2 63.6,372 76.1,372 76.1,427.2" fill="none" stroke="#f00" stroke-width="1"/>
<circle cx="53" cy="414.9" r="1.95" fill="#fff" stroke="#000" stroke-width="1.1"/>
<circle cx="59.3" cy="413.8" r="1.95" fill="#fff" stroke="#000" stroke-width="1.1"/>
<circle cx="58" cy="415.4" r="1.95" fill="#fff" stroke="#000" stroke-width="1.1"/>
<circle cx="54.6" cy="417.3" r="1.95" fill="#fff" stroke="#000" stroke-width="1.1"/>
<circle cx="50.6" cy="419.6" r="1.95" fill="#fff" stroke="#000" stroke-width="1.1"/>
<circle cx="55.1" cy="419.4" r="1.95" fill="#fff" stroke="#000" stroke-width="1.1"/>
<circle cx="59.1" cy="421" r="1.95" fill="#fff" stroke="#000" stroke-width="1.1"/>
<rect x="63.6" y="357.6" width="4.2" height="4.2" fill="none" stroke="#f00" stroke-width="1"/>
<rect x="68" y="361.6" width="4.2" height="4.2" fill="none" stroke="#f00" stroke-width="1"/>
<rect x="63.1" y="370.4" width="4.2" height="4.2" fill="none" stroke="#f00" stroke-width="1"/>
<rect x="67.8" y="369" width="4.2" height="4.2" fill="none" stroke="#f00" stroke-width="1"/>
<rect x="72.2" y="373" width="4.2" height="4.2" fill="none" stroke="#f00" stroke-width="1"/>
<rect x="67.8" y="375.2" width="4.2" height="4.2" fill="none" stroke="#f00" stroke-width="1"/>
<rect x="67.8" y="379.9" width="4.2" height="4.2" fill="none" stroke="#f00" stroke-width="1"/>
<line x1="67" y1="368.9" x2="73" y2="368.9" stroke="#666" stroke-width="0.8"/>
<line x1="70" y1="366.5" x2="70" y2="378" stroke="#666" stroke-width="0.7"/>
<polyline points="55.3,354.4 55.3,349.8 70.1,349.8 70.1,354.4" fill="none" stroke="#333" stroke-width="1"/>
<text stroke="#111" x="64.75" y="349.88" font-size="9" text-anchor="middle" letter-spacing="1.6">****</text>
<text stroke="#111" x="42.3" y="392.5" font-size="7.8" text-anchor="middle" transform="rotate(-90 42.3 392.5)">Not detected (ND)</text>
<text stroke="#111" x="7.2" y="389.8" font-size="8.1" text-anchor="middle" transform="rotate(-90 7.2 389.8)">cAMP (pmol/L)</text>
<text stroke="#111" x="41.8" y="435.3" font-size="6.6" text-anchor="end" transform="rotate(-45 41.8 435.3)">–</text>
<text stroke="#111" x="54.6" y="437.6" font-size="8.4" text-anchor="end" transform="rotate(-45 54.6 437.6)">m.PR</text>
<text stroke="#111" x="70.6" y="437.6" font-size="8.4" text-anchor="end" transform="rotate(-45 70.6 437.6)">m.CR</text>
<text x="113.5" y="343" font-size="11.2" fill="#000" stroke="#000" font-weight="bold">G</text>
<text stroke="#111" x="147" y="354.3" font-size="8" text-anchor="middle">m.PR</text>
<text stroke="#111" x="178.4" y="354.3" font-size="8" text-anchor="middle">m.CR</text>
<defs><filter id="bl2"><feGaussianBlur stdDeviation="0.4"/></filter></defs>
<defs><filter id="bl" x="-20%" y="-40%" width="140%" height="180%"><feGaussianBlur stdDeviation="0.85"/></filter></defs>
<rect x="129.2" y="357.8" width="68" height="23.2" fill="#f7f7f7" stroke="#4a4a4a" stroke-width="1"/>
<rect x="129.2" y="388.6" width="68" height="24.4" fill="#f7f7f7" stroke="#4a4a4a" stroke-width="1"/>
<defs><linearGradient id="lo1" x1="0" y1="0" x2="0" y2="1"><stop offset="0" stop-color="#333"/><stop offset="0.5" stop-color="#666"/><stop offset="1" stop-color="#555"/></linearGradient><linearGradient id="lo2" x1="0" y1="0" x2="0" y2="1"><stop offset="0" stop-color="#222"/><stop offset="0.5" stop-color="#555"/><stop offset="1" stop-color="#444"/></linearGradient></defs>
<g filter="url(#bl)"><path d="M142.6,370 Q142.8,367.2 146,367.3 L157,367.5 Q160,367.5 160,370 L160,375 L142.6,375 Z" fill="#151515"/><rect x="142.6" y="374.5" width="17.4" height="6.5" fill="url(#lo1)"/><rect x="144" y="377" width="14" height="1.2" fill="#777"/><path d="M163.8,368.5 Q163.8,366 167,366 L180,365.8 Q182.2,364.2 183,366.5 L183.2,376.5 L163.8,376.5 Z" fill="#080808"/><rect x="163.8" y="376" width="19.4" height="5" fill="url(#lo2)"/><rect x="165" y="378" width="17" height="1.2" fill="#666"/><path d="M137.8,401.5 Q137.8,396.5 141.5,395.8 L145,394.8 L157.5,395.6 Q159.8,396 159.8,399 L159.8,404 Q159.8,407.3 157,407.2 L142,407.4 Q137.8,407.3 137.8,401.5 Z" fill="#000"/><path d="M161,399 Q161,396 164,395.8 L180,395.3 Q185.4,397 185.4,402 Q185.4,408.2 180,408.2 L165,407.8 Q161,407.5 161,404 Z" fill="#000"/></g>
<text stroke="#111" x="205" y="373.8" font-size="8">pCREB (S133)</text>
<text stroke="#111" x="205" y="403.5" font-size="8">CREB</text>
</svg>
</body></html>
